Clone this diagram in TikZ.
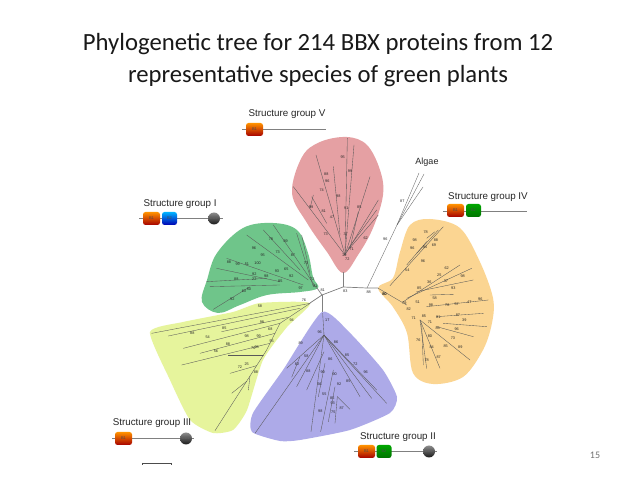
\documentclass[tikz,border=0pt]{standalone}
\usepackage{fontspec}
\setmainfont{Carlito}
\newfontfamily\labelfont{Liberation Sans}
\definecolor{redblob}{HTML}{E5A0A3}
\definecolor{greenblob}{HTML}{6FC58A}
\definecolor{yellowblob}{HTML}{E6F49C}
\definecolor{purpleblob}{HTML}{ADAAE8}
\definecolor{orangeblob}{HTML}{FBD592}
\tikzset{
  blob/.style={draw=none,fill=#1},
  branch/.style={draw=#1,line width=.35pt,line cap=round},
  branch/.default={black!65},
  stem/.style={draw=black!50,line width=.7pt},
  boot/.style={font=\labelfont\fontsize{3.8}{3.8}\selectfont,text=black!85,inner sep=0pt},
  title/.style={font=\fontsize{24.7}{32}\selectfont,align=center,text=black!90},
  grouplabel/.style={font=\labelfont\fontsize{9.8}{10}\selectfont,text=black!85,inner sep=0pt},
  backbone/.style={draw=black!50,line width=.8pt},
  dom/.style={rounded corners=2.5pt,minimum height=13pt,inner sep=0pt,font=\labelfont\fontsize{4}{4}\selectfont,text=black!70},
  domN/.style={dom,minimum width=17pt,top color=orange!85!yellow,bottom color=red!65!black},
  domG/.style={dom,minimum width=15pt,top color=green!65!black,bottom color=green!45!black},
  domB/.style={dom,minimum width=15pt,top color=cyan!70!blue,bottom color=blue!70!black},
  ball/.style={circle,minimum size=12pt,inner sep=0pt,font=\labelfont\fontsize{4}{4}\selectfont,text=black!60,top color=black!45,bottom color=black!90},
  zA/.style={shift={(230,95)},x=.33333pt,y=-.33333pt},
  zB/.style={shift={(100,190)},x=.33333pt,y=-.33333pt},
  zC/.style={shift={(250,290)},x=.33333pt,y=-.33333pt},
}
\begin{document}
\begin{tikzpicture}[x=1pt,y=-1pt]
\useasboundingbox (0,0) rectangle (638,478);
\fill[white] (0,0) rectangle (638,478);

\node[title] (ttl) at (318,60.5) {Phylogenetic tree for 214 BBX proteins from 12\\representative species of green plants};
\node[font=\fontsize{10}{12}\selectfont,text=black!55,inner sep=0pt] (pg) at (595,455) {15};

% coloured regions
\fill[blob=redblob] plot[smooth cycle,tension=.6] coordinates {(343,273)(327,252)(307,223)(292,193)(302,157)(320,142)(347,137)(367,145)(380,170)(383,195)(373,228)(358,255)};
\fill[blob=greenblob] plot[smooth cycle,tension=.6] coordinates {(218,313)(202,302)(207,280)(217,253)(243,228)(273,223)(297,230)(308,253)(313,277)(318,288)(300,292)(267,295)(240,305)};
\fill[blob=yellowblob] plot[smooth cycle,tension=.35] coordinates {(150,332)(183,322)(233,312)(260,303)(310,303)(287,327)(263,360)(247,410)(233,430)(213,433)(190,420)(170,380)};
\fill[blob=purpleblob] plot[smooth cycle,tension=.35] coordinates {(322,312)(350,333)(383,370)(397,397)(390,413)(350,430)(300,440)(280,441)(252,432)(253,413)(283,370)};
\fill[blob=orangeblob] plot[smooth cycle,tension=.55] coordinates {(378,288)(393,278)(400,252)(410,225)(430,219)(460,228)(480,262)(493,298)(492,323)(483,350)(463,377)(433,384)(413,373)(407,333)(393,307)};

% central backbone
\coordinate (hubC) at (322,295);
\coordinate (hubA) at (343,287);
\coordinate (hubB) at (367,288);
\coordinate (redroot) at (343,272);
\coordinate (purpleroot) at (322,312);
\coordinate (yellowroot) at (310,303);
\coordinate (greenroot) at (317,288);
\coordinate (orangeroot) at (378,288);
\draw[stem] (hubC) -- (hubA) -- (hubB) -- (orangeroot);
\draw[stem] (hubA) -- (redroot);
\draw[stem] (hubC) -- (purpleroot);
\draw[stem] (hubC) -- (yellowroot);
\draw[stem] (hubC) -- (greenroot);

% algae
\coordinate (alg1) at (419,173);
\coordinate (alg2) at (424,174);
\coordinate (alg3) at (423,187);
\coordinate (algf) at (397,225);
\draw[branch=black!60] (hubB) -- (algf) -- (alg1);
\draw[branch=black!60] (algf) -- (alg2);
\draw[branch=black!60] (algf) -- (alg3);

% red tree
\begin{scope}[zA]
\foreach \xa/\ya/\xb/\yb in {345/480/352/130,345/480/258/180,345/480/372/150,345/480/190/275,240/340/250/300,345/480/420/245,345/480/445/315,350/470/445/360,355/460/440/345,330/420/310/215,360/460/385/350,290/385/245/305}
  \draw[branch] (\xa,\ya) -- (\xb,\yb);
\foreach \x/\y/\t in {338/186/95,360/229/99,289/239/88,292/260/96,275/285/74,325/304/98,243/338/99,281/348/81,306/367/47,349/341/91,388/337/85,287/418/73,347/417/37,407/430/62,365/464/71,352/493/72,343/482/10}
  \node[boot] at (\x,\y) {\t};
\foreach \x/\y/\t in {517/320/87,466/432/96,346/588/83,416/591/88,463/598/80}
  \node[boot] at (\x,\y) {\t};
\end{scope}

% green tree
\begin{scope}[zB]
\foreach \xa/\ya/\xb/\yb in {650/295/520/105,625/270/440/135,610/285/380/205,640/290/590/130,630/250/605/135,540/275/350/235,540/285/330/290,450/290/340/358,500/265/320/275,600/240/490/120}
  \draw[branch] (\xa,\ya) -- (\xb,\yb);
\foreach \x/\y/\t in {513/147/78,557/153/89,462/174/96,533/186/73,488/197/95,579/195/87,618/219/73,387/217/88,413/224/99,441/224/51,473/219/100,531/244/93,559/237/65,463/254/92,463/267/22,499/260/98,409/267/88,574/258/92,541/273/85,602/294/97,637/268/72,646/288/91,432/303/63,447/297/50,397/327/92}
  \node[boot] at (\x,\y) {\t};
\node[boot] at (668,301) {81};
\end{scope}

% yellow tree
\begin{scope}[zB]
\draw[branch] (630,340) -- (540,400) -- (500,480) -- (345,722);
\foreach \xa/\ya/\xb/\yb in {630/340/155/430,600/355/205/438,565/382/365/425,540/400/250/475,525/430/300/490,510/460/245/525,490/495/385/495,470/527/390/550,440/574/395/610,450/558/445/600}
  \draw[branch] (\xa,\ya) -- (\xb,\yb);
\foreach \x/\y/\t in {612/332/76,480/349/58,575/390/94,486/396/98,373/414/85,511/417/68,277/431/88,323/442/54,440/438/98,476/438/99,384/462/88,515/454/55,348/483/56,460/476/70,470/472/98,468/548/88,420/531/72,440/524/25}
  \node[boot] at (\x,\y) {\t};
\end{scope}

% purple tree
\begin{scope}[zC]
\foreach \xa/\ya/\xb/\yb in {218/70/222/135,222/135/15/430,222/135/110/235,222/135/140/290,222/135/410/340,222/135/380/300,222/135/365/325,222/135/330/320,222/185/170/300,222/135/183/425,250/240/212/425,255/290/235/395,262/320/255/400,262/320/300/358,225/220/205/320,150/200/125/262}
  \draw[branch] (\xa,\ya) -- (\xb,\yb);
\foreach \x/\y/\t in {232/92/17,209/128/96,152/161/89,258/158/86,169/200/58,291/197/85,241/207/86,141/223/82,316/222/72,175/245/88,218/248/90,254/252/90,347/248/96,209/283/66,267/283/92,295/275/85,223/313/55,247/325/85,248/341/93,275/354/87,211/363/98,250/367/75}
  \node[boot] at (\x,\y) {\t};
\end{scope}

% orange tree
\begin{scope}[zA]
\foreach \xa/\ya/\xb/\yb in {445/580/530/630,480/572/640/395,590/430/615/410,560/475/625/405,530/510/590/440,520/620/690/510,530/610/725/520,560/590/730/555,600/600/670/598}
  \draw[branch] (\xa,\ya) -- (\xb,\yb);
\foreach \x/\y/\t in {587/413/78,554/436/98,618/437/88,612/450/69,547/461/96,585/456/94,579/500/96,532/526/54,650/520/62,628/541/25,598/562/36,648/558/37,698/543/98,568/579/85,670/580/93}
  \node[boot] at (\x,\y) {\t};
\end{scope}
\begin{scope}[zC]
\foreach \xa/\ya/\xb/\yb in {510/90/530/235,510/90/660/210,510/90/570/235,530/50/715/30,560/80/700/70,580/100/710/110,560/110/670/140,515/100/520/225}
  \draw[branch] (\xa,\ya) -- (\xb,\yb);
\foreach \x/\y/\t in {404/13/80,463/41/79,476/57/82,503/36/51,554/25/58,543/45/98,592/47/78,620/44/57,658/36/47,691/27/96,491/84/71,522/79/85,565/81/81,624/76/87,643/90/39,540/96/71,563/114/85,620/117/96,540/140/80,609/145/73,505/151/76,545/171/84,587/169/85,631/171/89,566/203/87,530/211/78}
  \node[boot] at (\x,\y) {\t};
\end{scope}

% labels
\node[grouplabel] (lV) at (287,114) {Structure group V};
\node[grouplabel] (lIV) at (488,197) {Structure group IV};
\node[grouplabel] (lI) at (180,204) {Structure group I};
\node[grouplabel] (lIII) at (152,423) {Structure group III};
\node[grouplabel] (lII) at (398,437) {Structure group II};
\node[grouplabel,font=\labelfont\fontsize{9}{10}\selectfont] (lAlg) at (427,162) {Algae};

% domain diagrams
\coordinate (vL) at (242,129); \coordinate (vR) at (326,129);
\draw[backbone] (vL) -- (vR);
\node[domN] (vN) at (254.5,129.5) {B1};

\coordinate (ivL) at (443,211); \coordinate (ivR) at (527,211);
\draw[backbone] (ivL) -- (ivR);
\node[domN] (ivN) at (455.5,210.5) {B1};
\node[domG] (ivG) at (473.5,210.5) {B2};

\coordinate (iL) at (139,218); \coordinate (iR) at (223,218);
\draw[backbone] (iL) -- (iR);
\node[domN] (iN) at (151.5,218.5) {B1};
\node[domB] (iB) at (169.5,218.5) {B2};
\node[ball] (iC) at (214,218.5) {CCT};

\coordinate (iiiL) at (112,438); \coordinate (iiiR) at (194,438);
\draw[backbone] (iiiL) -- (iiiR);
\node[domN] (iiiN) at (123.5,438.5) {B1};
\node[ball] (iiiC) at (186,438.5) {CCT};

\coordinate (iiL) at (354,451); \coordinate (iiR) at (437,451);
\draw[backbone] (iiL) -- (iiR);
\node[domN] (iiN) at (366.5,451.5) {B1};
\node[domG] (iiG) at (384,451.5) {B2};
\node[ball] (iiC) at (429,451.5) {CCT};

% scale bar
\coordinate (sbL) at (142,463); \coordinate (sbR) at (171,463);
\draw[black!70,line width=.5pt] (sbL) -- (sbR);
\draw[black!70,line width=.4pt] (sbL) -- ++(0,2);
\draw[black!70,line width=.4pt] (sbR) -- ++(0,2);
\end{tikzpicture}
\end{document}
